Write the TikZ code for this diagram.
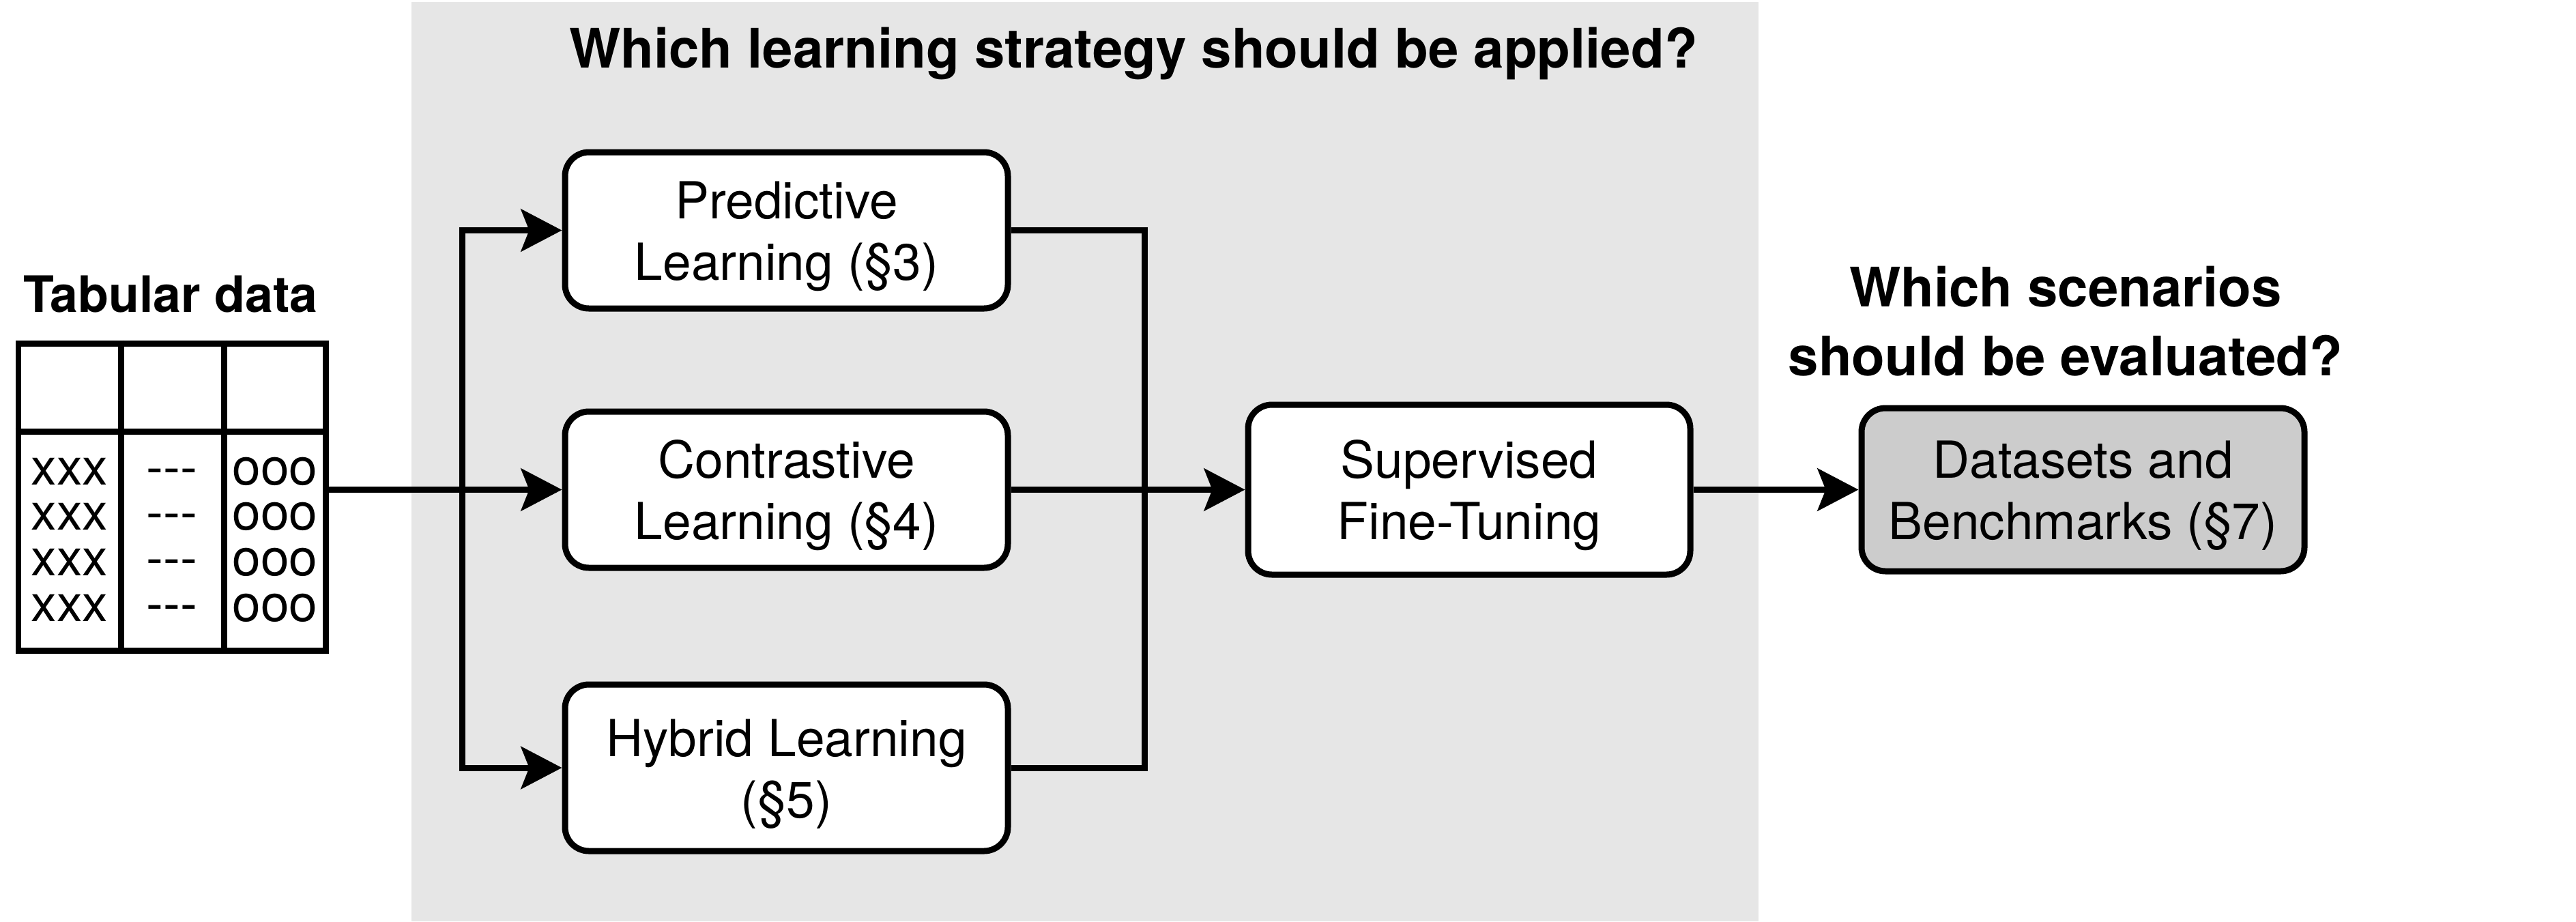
\documentclass[tikz,border=0pt]{standalone}
\usepackage{fontspec}
\setmainfont{TeX Gyre Heros}
\usetikzlibrary{arrows.meta}
\definecolor{panelgray}{HTML}{E6E6E6}
\definecolor{benchgray}{HTML}{CCCCCC}
\tikzstyle{stage}=[draw, fill=white, rounded corners=0.35cm, line width=2.56pt, minimum width=6.49cm, minimum height=2.29cm, align=center, font=\fontsize{21.3pt}{25.6pt}\selectfont, text height=1.62cm, text depth=0.16cm]
\tikzstyle{question}=[align=center, anchor=base, font=\fontsize{22.7pt}{28.5pt}\selectfont\bfseries]
\tikzstyle{wire}=[line width=2.56pt]
\tikzstyle{flow}=[wire, -{Stealth[length=0.6cm, width=0.62cm, inset=0.12cm]}]
\tikzstyle{cell}=[anchor=base, inner sep=0, font=\fontsize{21.3pt}{25.6pt}\selectfont]

\begin{document}
\begin{tikzpicture}
  \useasboundingbox (0,0) rectangle (37.75,-13.5);
  \fill[panelgray] (6.03,-0.03) rectangle (25.77,-13.5);

  \node[question] (q_strategy) at (16.61,-0.99) {Which learning strategy should be applied?};
  \node[question, font=\fontsize{20.9pt}{25pt}\selectfont\bfseries] (tab_title) at (2.50,-4.57) {Tabular data};
  \node[question] (q_scenario) at (30.27,-5.50) {Which scenarios\\should be evaluated?};

  % table
  \node[draw, line width=2.56pt, minimum width=4.5cm, minimum height=4.5cm] (tab) at (2.52,-7.28) {};
  \draw[wire] (tab.west |- 0,-6.32) -- (tab.east |- 0,-6.32);
  \foreach \cx in {1.77,3.28}
    \draw[wire] (\cx,0 |- tab.north) -- (\cx,0 |- tab.south);
  \foreach \r in {0,...,3} {
    \node[cell] (x_\r) at (1.02,-7.10-0.667*\r) {xxx};
    \node[cell] (d_\r) at (2.52,-7.10-0.667*\r) {-{}-{}-};
    \node[cell] (o_\r) at (4.03,-7.10-0.667*\r) {ooo};
  }

  \node[stage] (pre_learn) at (11.525,-3.375) {Predictive\\Learning (§3)};
  \node[stage] (con_learn) at (11.525,-7.175) {Contrastive\\Learning (§4)};
  \node[stage, minimum height=2.44cm] (hyb_learn) at (11.525,-11.25) {Hybrid Learning\\(§5)};
  \node[stage, minimum width=6.48cm, minimum height=2.49cm] (sft) at (21.53,-7.175) {Supervised\\Fine-Tuning};
  \node[stage, fill=benchgray, minimum height=2.39cm] (bench) at (30.525,-7.175) {Datasets and\\Benchmarks (§7)};

  \coordinate (in_split) at (6.77,-7.175);
  \coordinate (out_join) at (16.77,-7.175);
  \coordinate (tab_out) at (tab.east |- con_learn);

  \draw[flow] (tab_out) -- (con_learn);
  \draw[flow] (in_split) |- (pre_learn);
  \draw[flow] (in_split) |- (hyb_learn);
  \draw[wire] (pre_learn) -| (out_join);
  \draw[wire] (hyb_learn) -| (out_join);
  \draw[flow] (con_learn) -- (sft);
  \draw[flow] (sft) -- (bench);
\end{tikzpicture}
\end{document}
